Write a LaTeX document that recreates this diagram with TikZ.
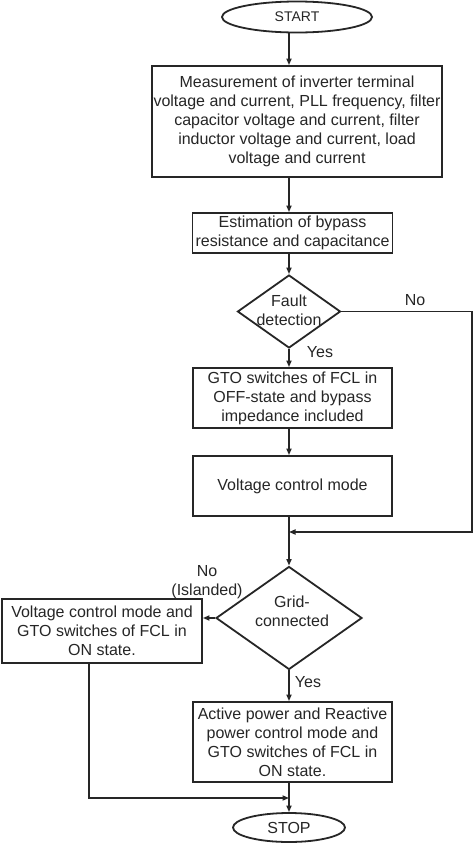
\documentclass[tikz,border=0pt]{standalone}
\usepackage{fontspec}
\setmainfont{Liberation Sans}
\usetikzlibrary{shapes.geometric,arrows.meta}
\definecolor{ink}{HTML}{262626}
\begin{document}
\begin{tikzpicture}[x=1pt,y=-1pt,
  every node/.style={font=\fontsize{16}{19}\selectfont, text=ink},
  box/.style={draw=ink, line width=1.8pt, rectangle, align=center, inner sep=0pt},
  term/.style={draw=ink, line width=1.8pt, ellipse, inner sep=0pt},
  dec/.style={draw=ink, line width=1.8pt, diamond, inner sep=0pt},
  conn/.style={draw=ink, line width=1.8pt},
  arr/.style={conn, -{Triangle[length=6.5pt,width=5pt]}},
  lbl/.style={align=center, inner sep=0pt}]
\path[fill=white] (0,0) rectangle (474,844);
\useasboundingbox (0,0) rectangle (474,844);

\node[term, minimum width=150pt, minimum height=31pt, font=\fontsize{14}{17}\selectfont] (start) at (297,17) {START};
\node[box, minimum width=290pt, minimum height=111pt] (meas) at (297,121.5)
  {Measurement of inverter terminal\\voltage and current, PLL frequency, filter\\capacitor voltage and current, filter\\inductor voltage and current, load\\voltage and current};
\node[box, minimum width=200pt, minimum height=40pt] (est) at (292.5,233)
  {Estimation of bypass\\resistance and capacitance};
\node[dec, minimum width=103pt, minimum height=73pt] (fd) at (289,311.5) {};
\node[lbl] (ft) at (289,310.5) {Fault\\detection};
\node[box, minimum width=199pt, minimum height=60pt] (gto) at (292.5,398)
  {GTO switches of FCL in\\OFF-state and bypass\\impedance included};
\node[box, minimum width=199pt, minimum height=60pt] (vcm) at (292.5,486)
  {Voltage control mode};
\node[dec, minimum width=146pt, minimum height=103pt] (grid) at (289,618) {};
\node[lbl] (gt) at (292,611) {Grid-\\connected};
\node[box, minimum width=200pt, minimum height=64pt] (left) at (102,631)
  {Voltage control mode and\\GTO switches of FCL in\\ON state.};
\node[box, minimum width=199pt, minimum height=80pt] (active) at (292.5,742)
  {Active power and Reactive\\power control mode and\\GTO switches of FCL in\\ON state.};
\node[term, minimum width=112pt, minimum height=29pt] (stop) at (289,827.5) {STOP};

\node[lbl] (no1) at (415,300) {No};
\node[lbl] (yes1) at (320,352) {Yes};
\node[lbl] (no2) at (207,582) {No\\(Islanded)};
\node[lbl] (yes2) at (308,682) {Yes};

\coordinate (m) at (289,532);
\coordinate (nr) at (472,532);
\coordinate (lb) at (89,798);
\coordinate (j) at (289,798);

\draw[arr] (start.south -| fd) -- (meas.north -| fd);
\draw[arr] (meas.south -| fd) -- (est.north -| fd);
\draw[arr] (est.south -| fd) -- (fd.north);
\draw[arr] (fd.south) -- (gto.north -| fd);
\draw[arr] (gto.south -| fd) -- (vcm.north -| fd);
\draw[arr] (vcm.south -| grid) -- (grid.north);
\draw[arr] (fd.east) -| (nr) -- (m);
\draw[arr] (grid.west) -- (left.east |- grid);
\draw[arr] (grid.south) -- (active.north -| grid);
\draw[arr] (left.south -| lb) -- (lb) -- (j);
\draw[arr] (active.south -| stop) -- (stop.north);
\end{tikzpicture}
\end{document}
